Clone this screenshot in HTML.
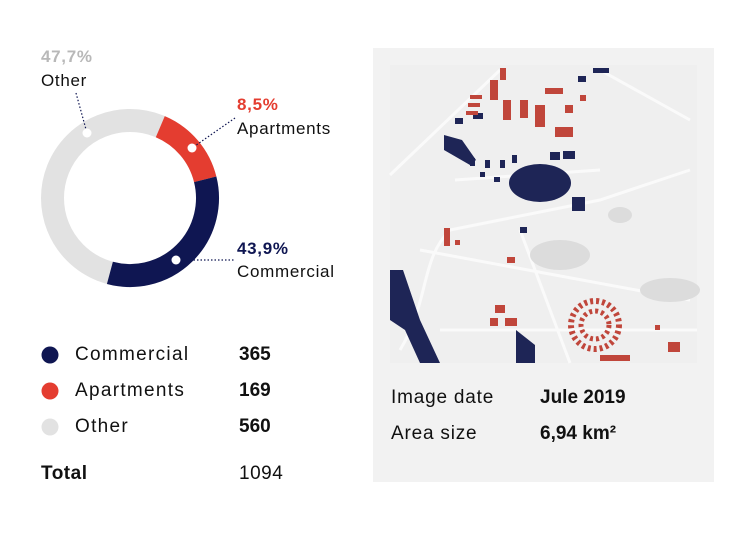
<!DOCTYPE html>
<html><head><meta charset="utf-8"><style>
body{margin:0;width:750px;height:536px;background:#fff;font-family:"Liberation Sans",sans-serif;position:relative;overflow:hidden}
.t{position:absolute;white-space:nowrap;color:#111}
.a{font-size:17px;letter-spacing:0.7px}
.l{font-size:19px;letter-spacing:1.3px}
</style></head><body>
<svg width="750" height="536" style="position:absolute;left:0;top:0">
<g fill="none" stroke-width="23">
<circle cx="130" cy="198" r="77.5" stroke="#e2e2e2"/>
<path d="M160.3,126.7 A77.5,77.5 0 0 1 205.2,179.3" stroke="#e43d30"/>
<path d="M205.2,179.3 A77.5,77.5 0 0 1 109.9,272.9" stroke="#0f1652"/>
</g>
<g stroke="#0f1652" stroke-width="1.2" stroke-dasharray="1.5,2" fill="none">
<path d="M76,93 L87,133"/>
<path d="M235,118 L192,148"/>
<path d="M176,260 L234,260"/>
</g>
<g fill="#fff"><circle cx="87" cy="133" r="4.5"/><circle cx="192" cy="148" r="4.5"/><circle cx="176" cy="260" r="4.5"/></g>
<circle cx="50" cy="355" r="8.5" fill="#0f1652"/>
<circle cx="50" cy="391" r="8.5" fill="#e43d30"/>
<circle cx="50" cy="427" r="8.5" fill="#e2e2e2"/>
<rect x="373" y="48" width="341" height="434" fill="#f2f2f2"/>
<rect x="390" y="65" width="307" height="298" fill="#efefef"/>
<g stroke="#fafafa" stroke-width="3" fill="none">
<path d="M390,175 L500,70"/><path d="M400,350 C430,300 420,260 450,230 L600,200 L690,170"/>
<path d="M420,250 L690,300"/><path d="M520,230 L570,363"/><path d="M600,70 L690,120"/>
<path d="M440,330 L697,330"/><path d="M455,180 L600,170"/>
</g>
<g fill="#dcdcdc"><ellipse cx="560" cy="255" rx="30" ry="15"/><ellipse cx="670" cy="290" rx="30" ry="12"/><ellipse cx="620" cy="215" rx="12" ry="8"/></g>
<g fill="#1e2556">
<ellipse cx="540" cy="183" rx="31" ry="19"/>
<rect x="572" y="197" width="13" height="14"/>
<path d="M444,135 L462,140 L476,160 L470,165 L444,150Z"/>
<path d="M390,270 L403,270 L420,320 L440,363 L420,363 L405,330 L390,320Z"/>
<path d="M516,330 L535,345 L535,363 L516,363Z"/>
<rect x="520" y="227" width="7" height="6"/>
<rect x="563" y="151" width="12" height="8"/><rect x="550" y="152" width="10" height="8"/>
<rect x="470" y="158" width="5" height="8"/><rect x="485" y="160" width="5" height="8"/><rect x="500" y="160" width="5" height="8"/><rect x="512" y="155" width="5" height="8"/>
<rect x="480" y="172" width="5" height="5"/><rect x="494" y="177" width="6" height="5"/>
<rect x="473" y="113" width="10" height="6"/><rect x="455" y="118" width="8" height="6"/>
<rect x="593" y="68" width="16" height="5"/><rect x="578" y="76" width="8" height="6"/>
</g>
<g fill="#c0463b">
<rect x="490" y="80" width="8" height="20"/><rect x="503" y="100" width="8" height="20"/><rect x="520" y="100" width="8" height="18"/>
<rect x="535" y="105" width="10" height="22"/><rect x="555" y="127" width="18" height="10"/>
<rect x="500" y="68" width="6" height="12"/><rect x="545" y="88" width="18" height="6"/>
<rect x="470" y="95" width="12" height="4"/><rect x="468" y="103" width="12" height="4"/><rect x="466" y="111" width="12" height="4"/>
<rect x="565" y="105" width="8" height="8"/><rect x="580" y="95" width="6" height="6"/>
<rect x="444" y="228" width="6" height="18"/><rect x="455" y="240" width="5" height="5"/>
<rect x="507" y="257" width="8" height="6"/>
<circle cx="595" cy="325" r="24" fill="none" stroke="#c0463b" stroke-width="6" stroke-dasharray="3,3"/>
<circle cx="595" cy="325" r="14" fill="none" stroke="#c0463b" stroke-width="5" stroke-dasharray="3,3"/>
<rect x="495" y="305" width="10" height="8"/><rect x="505" y="318" width="12" height="8"/><rect x="490" y="318" width="8" height="8"/>
<rect x="668" y="342" width="12" height="10"/><rect x="655" y="325" width="5" height="5"/>
<rect x="600" y="355" width="30" height="6"/>
</g>
</svg>
<div class="t a" style="left:41px;top:47px;font-weight:bold;color:#b8b8b8">47,7%</div>
<div class="t a" style="left:41px;top:71px">Other</div>
<div class="t a" style="left:237px;top:95px;font-weight:bold;color:#e43d30">8,5%</div>
<div class="t a" style="left:237px;top:119px">Apartments</div>
<div class="t a" style="left:237px;top:239px;font-weight:bold;color:#0f1652">43,9%</div>
<div class="t a" style="left:237px;top:262px">Commercial</div>
<div class="t l" style="left:75px;top:344px">Commercial</div>
<div class="t l" style="left:75px;top:380px">Apartments</div>
<div class="t l" style="left:75px;top:416px">Other</div>
<div class="t" style="left:239px;top:344px;font-size:19px;font-weight:bold">365</div>
<div class="t" style="left:239px;top:380px;font-size:19px;font-weight:bold">169</div>
<div class="t" style="left:239px;top:416px;font-size:19px;font-weight:bold">560</div>
<div class="t" style="left:41px;top:463px;font-size:19px;font-weight:bold;letter-spacing:0.5px">Total</div>
<div class="t" style="left:239px;top:463px;font-size:19px;letter-spacing:0.5px">1094</div>
<div class="t l" style="left:391px;top:387px;letter-spacing:0.8px">Image date</div>
<div class="t" style="left:540px;top:387px;font-size:19px;font-weight:bold">Jule 2019</div>
<div class="t l" style="left:391px;top:423px;letter-spacing:0.8px">Area size</div>
<div class="t" style="left:540px;top:423px;font-size:19px;font-weight:bold">6,94 km²</div>
</body></html>
